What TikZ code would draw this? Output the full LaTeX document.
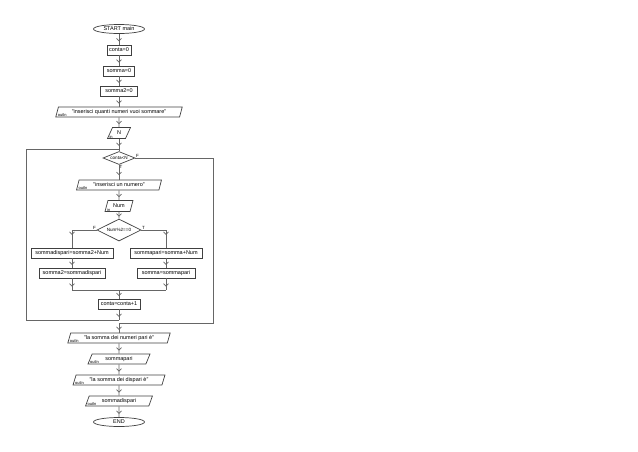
\documentclass[tikz,border=0pt]{standalone}
\usepackage{fontspec}
\setmainfont{Liberation Sans}
\usetikzlibrary{shapes.geometric,arrows.meta,decorations.markings}
\newcommand{\clrline}{black!60}
\newcommand{\clrbox}{black!75}

\tikzset{
    base/.style={draw=\clrbox, line width=0.7pt, font=\fontsize{5.5}{6}\selectfont, inner sep=0pt, minimum height=10},
    term/.style={base, ellipse, minimum width=51, minimum height=9},
    proc/.style={base, rectangle},
    io/.style={base, trapezium, trapezium left angle=68, trapezium right angle=112, trapezium stretches=true},
    cond/.style={base, diamond, aspect=2.5, font=\fontsize{4.6}{5}\selectfont},
    tag/.style={font=\fontsize{4}{4}\selectfont, inner sep=0.4pt, anchor=south west},
    lbl/.style={font=\fontsize{4.5}{5}\selectfont, inner sep=0.5pt},
    line/.style={draw=\clrline, line width=0.7pt},
    flow/.style={line, postaction={decorate}, decoration={markings, mark=at position 0.7 with {\arrow[\clrline]{Straight Barb[length=2.5pt,width=5pt]}}}}
}

\begin{document}
\begin{tikzpicture}[x=1pt, y=-1pt]
    \useasboundingbox (0,0) rectangle (638,451);
    %start and first assignments
        \node[term] (start) at (119,29) {START main};
        \node[proc, minimum width=24] (c0) at (119,50) {conta=0};
        \node[proc, minimum width=31] (s0) at (119,71) {somma=0};
        \node[proc, minimum width=37] (s20) at (119,91) {somma2=0};
        \node[io, minimum width=127] (o1) at (119,112) {"inserisci quanti numeri vuoi sommare"};
        \node[tag] (o1t) at ([xshift=2pt]o1.bottom left corner) {outln};
        \node[io, minimum width=23, minimum height=11] (inN) at (119,133) {N};
        \node[tag] (inNt) at ([xshift=2pt]inN.bottom left corner) {in};
    %loop head
        \coordinate (j1) at (119,149);
        \node[cond, minimum width=32, minimum height=13] (d1) at (119,158) {conta<N};
        \node[lbl, anchor=south west] (d1f) at (d1.east) {F};
        \node[lbl, anchor=north west] (d1t) at (d1.south) {T};
    %loop body
        \node[io, minimum width=85] (o2) at (119,185) {"inserisci un numero"};
        \node[tag] (o2t) at ([xshift=2pt]o2.bottom left corner) {outln};
        \node[io, minimum width=28, minimum height=11] (inNum) at (119,206) {Num};
        \node[tag] (inNumt) at ([xshift=2pt]inNum.bottom left corner) {in};
        \node[cond, minimum width=44, minimum height=22] (d2) at (119,230) {Num\%2==0};
        \node[lbl, anchor=south east] (d2f) at (d2.west) {F};
        \node[lbl, anchor=south west] (d2t) at (d2.east) {T};
        \node[proc, minimum width=82] (pd1) at (72,253) {sommadispari=somma2+Num};
        \node[proc, minimum width=72] (pp1) at (166,253) {sommapari=somma+Num};
        \node[proc, minimum width=66] (pd2) at (72,273) {somma2=sommadispari};
        \node[proc, minimum width=58] (pp2) at (166,273) {somma=sommapari};
        \coordinate (mgl) at (72,290);
        \coordinate (mgr) at (166,290);
        \coordinate (mg) at (119,290);
        \node[proc, minimum width=42] (inc) at (119,304) {conta=conta+1};
    %loop back and exit
        \coordinate (lb) at (119,320);
        \coordinate (ltop) at (26,149);
        \coordinate (rx) at (213,323);
        \coordinate (ex) at (119,323);
    %outputs after the loop
        \node[io, minimum width=103] (o3) at (119,338) {"la somma dei numeri pari è"};
        \node[tag] (o3t) at ([xshift=2pt]o3.bottom left corner) {outln};
        \node[io, minimum width=62] (o4) at (119,359) {sommapari};
        \node[tag] (o4t) at ([xshift=2pt]o4.bottom left corner) {outln};
        \node[io, minimum width=92] (o5) at (119,380) {"la somma dei dispari è"};
        \node[tag] (o5t) at ([xshift=2pt]o5.bottom left corner) {outln};
        \node[io, minimum width=67] (o6) at (119,401) {sommadispari};
        \node[tag] (o6t) at ([xshift=2pt]o6.bottom left corner) {outln};
        \node[term] (end) at (119,422) {END};

    %connectors
        \draw[flow] (start) -- (c0);
        \draw[flow] (c0) -- (s0);
        \draw[flow] (s0) -- (s20);
        \draw[flow] (s20) -- (o1);
        \draw[flow] (o1) -- (inN);
        \draw[flow] (inN) -- (j1);
        \draw[line] (j1) -- (d1);
        \draw[flow] (d1) -- (o2);
        \draw[flow] (o2) -- (inNum);
        \draw[flow] (inNum) -- (d2);
        \draw[flow] (d2.west) -| (pd1);
        \draw[flow] (d2.east) -| (pp1);
        \draw[flow] (pd1) -- (pd2);
        \draw[flow] (pp1) -- (pp2);
        \draw[flow] (pd2) -- (mgl);
        \draw[flow] (pp2) -- (mgr);
        \draw[line] (mgl) -- (mgr);
        \draw[flow] (mg) -- (inc);
        \draw[flow] (inc) -- (lb);
        \draw[line] (lb) -| (ltop) -- (j1);
        \draw[line] (d1.east) -| (rx) -- (ex);
        \draw[flow] (ex) -- (o3);
        \draw[flow] (o3) -- (o4);
        \draw[flow] (o4) -- (o5);
        \draw[flow] (o5) -- (o6);
        \draw[flow] (o6) -- (end);
\end{tikzpicture}
\end{document}
